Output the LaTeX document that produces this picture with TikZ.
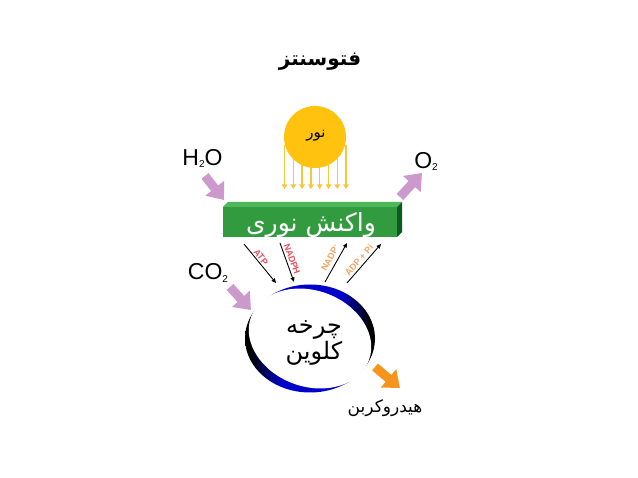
\documentclass[tikz,border=0pt]{standalone}
\usepackage{fontspec}
\setmainfont{Liberation Sans}
\newfontfamily\arabicfont[Script=Arabic]{DejaVu Sans}
\TeXXeTstate=1
\usetikzlibrary{arrows.meta}
\definecolor{sunc}{HTML}{FFC20E}
\definecolor{rayc}{HTML}{F8C63C}
\definecolor{pinkc}{HTML}{CC99CC}
\definecolor{orangec}{HTML}{F7941D}
\definecolor{greenf}{HTML}{339B3F}
\definecolor{greent}{HTML}{4DB85A}
\definecolor{greens}{HTML}{0B5A1E}
\definecolor{redl}{HTML}{E8505B}
\definecolor{orl}{HTML}{F4A460}
\pgfdeclarehorizontalshading{ringshade}{100bp}{rgb(0bp)=(0,0,0);rgb(27bp)=(0,0,0);rgb(39bp)=(0,0,0.8);rgb(62bp)=(0,0,0.8);rgb(73bp)=(0,0,0);rgb(100bp)=(0,0,0)}
\tikzset{
  x=1pt,y=-1pt,
  label/.style={inner sep=0pt,font=\fontsize{#1}{#1}\selectfont,text=black},
  label/.default=22,
  ar/.style={inner sep=0pt,font=\arabicfont\fontsize{#1}{#1}\selectfont,align=center},
  block/.style={line width=9pt,-{Triangle[length=15pt,width=23pt]},draw=#1},
  ray/.style={draw=rayc,line width=1.5pt,-{Triangle[length=4.5pt,width=5.5pt]}},
  thin arrow/.style={draw=black,line width=0.9pt,-{Triangle[length=4.5pt,width=4pt]}},
  rot/.style={inner sep=0pt,font=\fontsize{9}{9}\selectfont\bfseries,text=#1},
}
\begin{document}
\begin{tikzpicture}
\useasboundingbox (0,0) rectangle (638,478);
\fill[white] (0,0) rectangle (638,478);
\node[ar=20,font=\arabicfont\bfseries\fontsize{20}{20}\selectfont] (title) at (320,62) {\beginR فتوسنتز\endR};
% rays
\foreach \i/\xx in {1/284.5,2/293.3,3/302.1,4/310.9,5/319.7,6/328.5,7/337.3,8/346}{
  \coordinate (rs\i) at (\xx,145);
  \coordinate (re\i) at (\xx,189);
  \draw[ray] (rs\i) -- (re\i);
}
\node[circle,fill=sunc,minimum size=62pt,inner sep=0pt] (sun) at (315,137) {};
\node[ar=15] (sunl) at (316,136) {\beginR نور\endR};
% box
\fill[greent] (223,207) -- (228,202) -- (402,202) -- (397,207) -- cycle;
\fill[greens] (397,207) -- (402,202) -- (402,232) -- (397,237) -- cycle;
\node[fill=greenf,minimum width=174pt,minimum height=30pt,inner sep=0pt,anchor=north west] (box) at (223,207) {};
\node[ar=25,text=white] (boxl) at (311,225) {\beginR واکنش نوری\endR};
% labels
\node[label=23] (h2o) at (202.5,158) {H\raisebox{-2pt}{\fontsize{10}{10}\selectfont 2}O};
\node[label=23] (o2) at (426,161) {O\raisebox{-2pt}{\fontsize{10}{10}\selectfont 2}};
\node[label=23] (co2) at (208,273) {CO\raisebox{-3pt}{\fontsize{10}{10}\selectfont 2}};
% block arrows
\coordinate (a1) at (205,176); \coordinate (a2) at (224,200);
\coordinate (b1) at (400,197); \coordinate (b2) at (422,173);
\coordinate (c1) at (230,287); \coordinate (c2) at (251,310);
\coordinate (d1) at (375,367); \coordinate (d2) at (400,388);
\draw[block=pinkc] (a1) -- (a2);
\draw[block=pinkc] (b1) -- (b2);
\draw[block=pinkc] (c1) -- (c2);
\draw[block=orangec] (d1) -- (d2);
% ring
\shade[shading=ringshade] (310,338.5) ellipse [x radius=65,y radius=54];
\fill[white,rotate around={-20:(310,338.5)}] (310,338.5) ellipse [x radius=62.8,y radius=48];
\node[ar=24] (cycle) at (314,343) {\beginR چرخه\endR\\[1pt]\beginR کلوین\endR};
% thin arrows
\coordinate (e1) at (244,244); \coordinate (e2) at (276,283);
\coordinate (f1) at (280,243); \coordinate (f2) at (294,282);
\coordinate (g1) at (325,282); \coordinate (g2) at (347,243);
\coordinate (h1) at (347,283); \coordinate (h2) at (381,244);
\draw[thin arrow] (e1) -- (e2);
\draw[thin arrow] (f1) -- (f2);
\draw[thin arrow] (g1) -- (g2);
\draw[thin arrow] (h1) -- (h2);
\node[rot=redl,rotate=-52] (atp) at (261,257) {ATP};
\node[rot=redl,rotate=-70] (nadph) at (292,259) {NADPH};
\node[rot=orl,rotate=62] (nadp) at (330,258) {NADP\raisebox{3pt}{\fontsize{4}{4}\selectfont +}};
\node[rot=orl,rotate=49] (adp) at (359,260) {ADP + Pi};
\node[ar=17] (hc) at (385,408) {\beginR هیدروکربن\endR};
\end{tikzpicture}
\end{document}
